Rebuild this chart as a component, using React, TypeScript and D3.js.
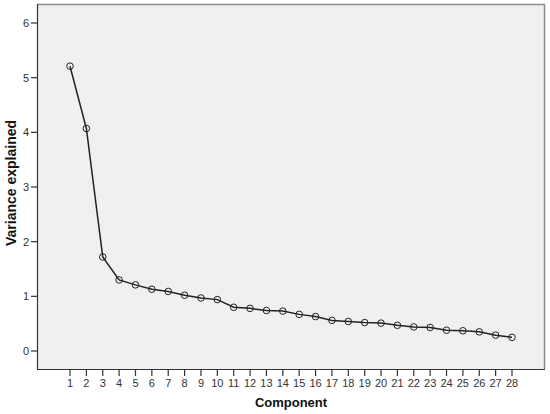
import * as React from 'react';
import * as d3 from "d3";

const components = d3.range(1, 29);
const variance = [5.21, 4.07, 1.72, 1.30, 1.21, 1.13, 1.09, 1.02, 0.97, 0.94, 0.80, 0.78, 0.74, 0.73,
    0.67, 0.63, 0.56, 0.54, 0.52, 0.51, 0.47, 0.44, 0.43, 0.38, 0.37, 0.35, 0.29, 0.25];
const yTicks = [0, 1, 2, 3, 4, 5, 6];

const width = 550;
const height = 414;
const box = { left: 37, top: 4, right: 545, bottom: 369 };
const font = "'Liberation Sans', Arial, sans-serif";

export default function App() {
    const x = d3.scaleLinear().domain([1, 28]).range([70, 512]);
    const y = d3.scaleLinear().domain([0, 6]).range([351, 23]);

    const line = d3.line<number>()
        .x((_, i) => x(components[i]))
        .y(v => y(v));

    return (
        <svg width={width} height={height} style={{ position: "absolute", left: 0, top: 0, background: "#fff" }}>
            <rect x={box.left} y={box.top} width={box.right - box.left} height={box.bottom - box.top} fill="#f0f0f0" />
            {/* top / right frame */}
            <path d={`M${box.left},${box.top + 0.5}H${box.right - 0.5}V${box.bottom}`} fill="none" stroke="#8a8a8a" strokeWidth={1.5} />
            {/* axes */}
            <path d={`M${box.left + 0.5},${box.top}V${box.bottom + 0.5}H${box.right}`} fill="none" stroke="#333" strokeWidth={1.2} />

            {yTicks.map(t => (
                <g key={t}>
                    <line x1={31} x2={box.left} y1={y(t)} y2={y(t)} stroke="#333" strokeWidth={1.2} />
                    <text x={29} y={y(t)} dy="0.35em" textAnchor="end" fontFamily={font} fontSize={11} fill="#333">{t}</text>
                </g>
            ))}
            {components.map(c => (
                <g key={c}>
                    <line x1={x(c)} x2={x(c)} y1={box.bottom} y2={376} stroke="#333" strokeWidth={1.2} />
                    <text x={x(c)} y={387} textAnchor="middle" fontFamily={font} fontSize={11} fill="#333">{c}</text>
                </g>
            ))}

            <path d={line(variance) || undefined} fill="none" stroke="#222" strokeWidth={1.5} />
            {variance.map((v, i) => (
                <circle key={i} cx={x(components[i])} cy={y(v)} r={3.3} fill="none" stroke="#222" strokeWidth={1} />
            ))}

            <text x={291} y={407} textAnchor="middle" fontFamily={font} fontSize={13} fontWeight="bold" fill="#111">Component</text>
            <text transform="translate(16,183) rotate(-90)" textAnchor="middle" fontFamily={font} fontSize={14} fontWeight="bold" fill="#111">Variance explained</text>
        </svg>
    );
}
